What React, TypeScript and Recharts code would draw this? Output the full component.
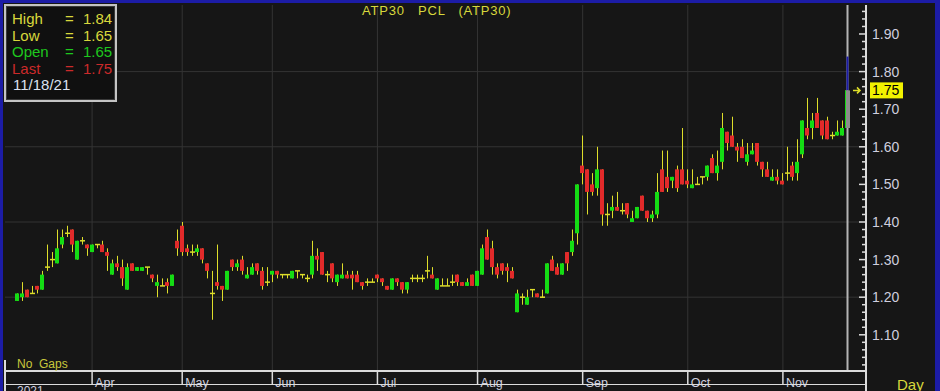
import React from 'react';
import {
  ComposedChart, Bar, XAxis, YAxis, CartesianGrid, ReferenceLine
} from 'recharts';

// --- daily candles, 11 Mar 2021 .. 18 Nov 2021 ---

const OPEN = [
  1.19, 1.20, 1.22, 1.21, 1.23, 1.22, 1.28, 1.30, 1.29, 1.34, 1.37, 1.38, 1.30, 1.35, 1.34,
  1.32, 1.34, 1.34, 1.32, 1.26, 1.29, 1.28, 1.22, 1.29, 1.27, 1.27, 1.28, 1.26, 1.23, 1.23,
  1.24, 1.23, 1.35, 1.39, 1.33, 1.32, 1.32, 1.33, 1.29, 1.21, 1.24, 1.23, 1.22, 1.30, 1.28,
  1.30, 1.25, 1.26, 1.29, 1.27, 1.24, 1.26, 1.27, 1.26, 1.26, 1.25, 1.27, 1.26, 1.25, 1.26,
  1.31, 1.32, 1.26, 1.29, 1.24, 1.25, 1.26, 1.26, 1.26, 1.24, 1.24, 1.24, 1.26, 1.25, 1.23,
  1.22, 1.25, 1.24, 1.22, 1.25, 1.25, 1.25, 1.27, 1.26, 1.22, 1.23, 1.23, 1.24, 1.26, 1.24,
  1.23, 1.26, 1.23, 1.26, 1.36, 1.33, 1.28, 1.29, 1.28, 1.27, 1.16, 1.20, 1.18, 1.22, 1.21,
  1.20, 1.21, 1.30, 1.28, 1.26, 1.32, 1.32, 1.37, 1.55, 1.54, 1.50, 1.49, 1.54, 1.42, 1.43,
  1.44, 1.43, 1.45, 1.40, 1.41, 1.47, 1.43, 1.41, 1.42, 1.54, 1.52, 1.51, 1.54, 1.54, 1.51,
  1.49, 1.50, 1.52, 1.52, 1.57, 1.53, 1.56, 1.64, 1.63, 1.60, 1.60, 1.56, 1.58, 1.61, 1.56,
  1.54, 1.51, 1.52, 1.51, 1.53, 1.55, 1.53, 1.58, 1.65, 1.65, 1.69, 1.67, 1.67, 1.63, 1.63,
  1.63, 1.65,
];

const HIGH = [
  1.21, 1.24, 1.22, 1.23, 1.23, 1.27, 1.34, 1.32, 1.38, 1.38, 1.39, 1.38, 1.35, 1.36, 1.34,
  1.34, 1.34, 1.35, 1.33, 1.30, 1.31, 1.30, 1.29, 1.29, 1.28, 1.28, 1.28, 1.26, 1.26, 1.25,
  1.25, 1.26, 1.38, 1.40, 1.34, 1.34, 1.34, 1.33, 1.29, 1.27, 1.34, 1.23, 1.27, 1.30, 1.30,
  1.31, 1.28, 1.29, 1.29, 1.28, 1.28, 1.27, 1.27, 1.26, 1.26, 1.27, 1.27, 1.26, 1.26, 1.35,
  1.33, 1.32, 1.27, 1.29, 1.26, 1.29, 1.27, 1.27, 1.27, 1.24, 1.25, 1.25, 1.26, 1.25, 1.23,
  1.25, 1.25, 1.24, 1.24, 1.26, 1.26, 1.26, 1.31, 1.28, 1.25, 1.25, 1.25, 1.26, 1.26, 1.24,
  1.25, 1.26, 1.27, 1.34, 1.38, 1.35, 1.29, 1.29, 1.29, 1.28, 1.22, 1.21, 1.22, 1.22, 1.21,
  1.22, 1.29, 1.31, 1.29, 1.29, 1.32, 1.38, 1.50, 1.63, 1.54, 1.53, 1.60, 1.54, 1.45, 1.47,
  1.48, 1.45, 1.45, 1.43, 1.44, 1.47, 1.43, 1.43, 1.53, 1.59, 1.59, 1.52, 1.55, 1.65, 1.54,
  1.54, 1.52, 1.52, 1.55, 1.58, 1.59, 1.69, 1.64, 1.68, 1.61, 1.62, 1.61, 1.61, 1.61, 1.56,
  1.56, 1.54, 1.54, 1.53, 1.60, 1.56, 1.62, 1.67, 1.73, 1.69, 1.73, 1.67, 1.68, 1.64, 1.67,
  1.67, 1.84,
];

const LOW = [
  1.19, 1.19, 1.20, 1.21, 1.21, 1.22, 1.27, 1.28, 1.29, 1.33, 1.36, 1.32, 1.30, 1.34, 1.31,
  1.32, 1.33, 1.32, 1.27, 1.26, 1.27, 1.23, 1.22, 1.27, 1.27, 1.27, 1.26, 1.24, 1.20, 1.23,
  1.21, 1.23, 1.31, 1.31, 1.31, 1.31, 1.31, 1.29, 1.25, 1.14, 1.22, 1.19, 1.22, 1.27, 1.27,
  1.26, 1.25, 1.26, 1.26, 1.22, 1.23, 1.24, 1.25, 1.25, 1.25, 1.25, 1.25, 1.25, 1.24, 1.25,
  1.27, 1.26, 1.24, 1.24, 1.23, 1.25, 1.25, 1.22, 1.24, 1.22, 1.23, 1.24, 1.24, 1.23, 1.22,
  1.22, 1.23, 1.21, 1.21, 1.24, 1.24, 1.24, 1.25, 1.25, 1.22, 1.23, 1.23, 1.23, 1.23, 1.23,
  1.23, 1.23, 1.23, 1.26, 1.30, 1.26, 1.25, 1.26, 1.24, 1.25, 1.16, 1.18, 1.18, 1.20, 1.20,
  1.20, 1.21, 1.27, 1.26, 1.26, 1.27, 1.31, 1.34, 1.50, 1.42, 1.47, 1.47, 1.39, 1.39, 1.41,
  1.43, 1.42, 1.41, 1.40, 1.41, 1.43, 1.40, 1.40, 1.41, 1.48, 1.48, 1.49, 1.48, 1.50, 1.49,
  1.49, 1.50, 1.50, 1.51, 1.53, 1.51, 1.54, 1.59, 1.60, 1.56, 1.57, 1.55, 1.58, 1.55, 1.52,
  1.52, 1.51, 1.50, 1.50, 1.51, 1.51, 1.51, 1.57, 1.62, 1.62, 1.65, 1.62, 1.62, 1.62, 1.63,
  1.63, 1.65,
];

const CLOSE = [
  1.21, 1.21, 1.20, 1.21, 1.22, 1.26, 1.28, 1.30, 1.33, 1.36, 1.37, 1.34, 1.35, 1.35, 1.33,
  1.34, 1.34, 1.32, 1.31, 1.29, 1.28, 1.25, 1.28, 1.27, 1.28, 1.28, 1.28, 1.25, 1.24, 1.23,
  1.23, 1.26, 1.33, 1.32, 1.32, 1.32, 1.33, 1.30, 1.27, 1.21, 1.23, 1.22, 1.27, 1.28, 1.29,
  1.27, 1.26, 1.28, 1.27, 1.23, 1.24, 1.27, 1.26, 1.26, 1.26, 1.27, 1.27, 1.26, 1.25, 1.31,
  1.30, 1.26, 1.26, 1.25, 1.26, 1.26, 1.25, 1.25, 1.24, 1.23, 1.24, 1.24, 1.25, 1.24, 1.22,
  1.25, 1.24, 1.22, 1.24, 1.25, 1.25, 1.25, 1.27, 1.25, 1.25, 1.23, 1.23, 1.24, 1.24, 1.23,
  1.24, 1.23, 1.27, 1.33, 1.30, 1.28, 1.26, 1.27, 1.27, 1.25, 1.21, 1.20, 1.20, 1.22, 1.20,
  1.20, 1.29, 1.27, 1.26, 1.29, 1.29, 1.35, 1.50, 1.53, 1.48, 1.48, 1.54, 1.42, 1.42, 1.44,
  1.43, 1.43, 1.42, 1.41, 1.44, 1.43, 1.41, 1.42, 1.48, 1.48, 1.49, 1.52, 1.49, 1.50, 1.50,
  1.50, 1.50, 1.52, 1.55, 1.53, 1.55, 1.65, 1.61, 1.60, 1.59, 1.57, 1.58, 1.59, 1.56, 1.54,
  1.52, 1.52, 1.51, 1.50, 1.53, 1.52, 1.56, 1.67, 1.63, 1.67, 1.65, 1.63, 1.62, 1.63, 1.64,
  1.65, 1.75,
];

// first trading day of each month (candle index) and its label
const MONTH_IDX = [15, 33, 51, 72, 92, 113, 134, 153];
const MONTH_LABELS = ['Apr', 'May', 'Jun', 'Jul', 'Aug', 'Sep', 'Oct', 'Nov'];

const PRICE_GRID = [1.2, 1.4, 1.6, 1.8];
const PRICE_LABELS = [1.1, 1.2, 1.3, 1.4, 1.5, 1.6, 1.7, 1.8, 1.9];

const LAST_DATE = '11/18/21';

const X_DOMAIN: [number, number] = [-2.4, 169.6];
const Y_DOMAIN: [number, number] = [1.0037, 1.9771];

const candles = OPEN.map((o, i) => ({
  idx: i, open: o, high: HIGH[i], low: LOW[i], close: CLOSE[i],
}));
const last = candles[candles.length - 1];

const minorTicks: number[] = [];
for (let t = 102; t <= 196; t += 2) minorTicks.push(t / 100);

const FONT = '"Liberation Sans", Arial, sans-serif';
const BG = '#161616';
const YELLOW = '#dede2a';
const GREEN = '#14dc14';
const RED = '#e22a2a';
const AXIS = '#dcdcdc';
const LABEL = '#cfcfdf';

const Candle = (props: any) => {
  const { x, y, width, height, payload } = props;
  const { open, high, low, close, idx } = payload;
  const top = Math.min(y, y + height);
  const k = Math.abs(height) / (high - low);
  const yOf = (v: number) => top + (high - v) * k;
  const cx = Math.floor(x + width / 2) + 0.5;

  if (idx === candles.length - 1) {
    // selected bar: cursor line, blue wick, grey body
    return (
      <g>
        <line x1={cx} x2={cx} y1={yOf(Y_DOMAIN[1])} y2={yOf(Y_DOMAIN[0])} stroke="#b4b4b4" strokeWidth={2} />
        <line x1={cx} x2={cx} y1={yOf(high)} y2={yOf(close)} stroke="#1a1aa8" strokeWidth={2} />
        <rect x={cx - 2.5} y={yOf(close)} width={5} height={yOf(open) - yOf(close)} fill="#8c8c8c" />
        <line x1={cx - 2} x2={cx - 2} y1={yOf(close)} y2={yOf(open)} stroke={GREEN} strokeWidth={1} />
      </g>
    );
  }

  const bodyTop = yOf(Math.max(open, close));
  const bodyBot = yOf(Math.min(open, close));
  return (
    <g>
      <line x1={cx} x2={cx} y1={yOf(high)} y2={yOf(low)} stroke={YELLOW} strokeWidth={1} />
      {open === close ? (
        <line x1={cx - 2.5} x2={cx + 2.5} y1={bodyTop} y2={bodyTop} stroke={YELLOW} strokeWidth={1.5} />
      ) : (
        <rect x={cx - 2.5} y={bodyTop} width={4} height={bodyBot - bodyTop}
          fill={close > open ? GREEN : RED} />
      )}
    </g>
  );
};

const PriceTick = (props: any) => {
  const { x, y, payload } = props;
  const v: number = payload.value;
  const major = PRICE_LABELS.some((p) => Math.abs(p - v) < 0.001);
  return (
    <g>
      <line x1={x - (major ? 7 : 4)} x2={x} y1={y} y2={y} stroke={AXIS} strokeWidth={1.5} />
      {major && (
        <text x={x + 6} y={y + 5} fill={LABEL} fontSize={14} fontFamily={FONT}>{v.toFixed(2)}</text>
      )}
    </g>
  );
};

const MonthTick = (props: any) => {
  const { x, y, payload } = props;
  const label = MONTH_LABELS[MONTH_IDX.indexOf(payload.value)];
  return (
    <g>
      <line x1={x} x2={x} y1={y} y2={y + 13} stroke={AXIS} strokeWidth={1.5} />
      <text x={x + 3} y={y + 16} fill={LABEL} fontSize={12.5} fontFamily={FONT}>{label}</text>
    </g>
  );
};

const LastBadge = (props: any) => {
  const { viewBox } = props;
  const right = viewBox.x + viewBox.width;
  const y = viewBox.y;
  return (
    <g>
      <path d={`M${right - 13} ${y}H${right - 6}M${right - 9} ${y - 3}L${right - 6} ${y}L${right - 9} ${y + 3}`}
        stroke={YELLOW} strokeWidth={1.5} fill="none" />
      <rect x={right + 4} y={y - 8} width={33} height={16} fill="#f2f200" />
      <text x={right + 6} y={y + 5} fill="#000" fontSize={14} fontFamily={FONT}>{last.close.toFixed(2)}</text>
    </g>
  );
};

const legendRows = [
  { name: 'High', value: last.high, color: '#d8d83c' },
  { name: 'Low', value: last.low, color: '#d8d83c' },
  { name: 'Open', value: last.open, color: '#1ec81e' },
  { name: 'Last', value: last.close, color: '#cc2a2a' },
];

export default function App() {
  return (
    <div style={{
      position: 'absolute', left: 0, top: 0, width: 940, height: 391, overflow: 'hidden',
      background: BG, fontFamily: FONT,
    }}>
      <ComposedChart width={940} height={391} data={candles}
        margin={{ top: 5, right: 4, bottom: 0, left: 5 }}>
        <CartesianGrid stroke="#343434" horizontalValues={PRICE_GRID} verticalValues={MONTH_IDX} />
        <XAxis type="number" dataKey="idx" domain={X_DOMAIN} allowDataOverflow ticks={MONTH_IDX}
          interval={0} tick={<MonthTick />} tickLine={false} tickSize={0} tickMargin={0} height={20}
          axisLine={{ stroke: AXIS, strokeWidth: 2 }} />
        <YAxis yAxisId={0} orientation="right" type="number" domain={Y_DOMAIN} allowDataOverflow
          ticks={minorTicks} interval={0} width={70} tick={<PriceTick />} tickLine={false}
          tickSize={0} tickMargin={0} axisLine={{ stroke: AXIS, strokeWidth: 2 }} />
        <YAxis yAxisId="left" orientation="left" mirror type="number" domain={Y_DOMAIN}
          allowDataOverflow ticks={minorTicks} interval={0} width={0} tick={false} tickSize={5}
          tickLine={{ stroke: AXIS }} axisLine={{ stroke: AXIS, strokeWidth: 2 }} />
        <Bar dataKey={(d: any) => [d.low, d.high]} barSize={5} shape={<Candle />}
          isAnimationActive={false} />
        <ReferenceLine y={last.close} stroke="none" label={<LastBadge />} />
      </ComposedChart>

      {/* lower time band and axis extensions */}
      <div style={{ position: 'absolute', left: 5, top: 383.5, width: 861, height: 1.5, background: AXIS }} />
      <div style={{ position: 'absolute', left: 865, top: 360, width: 2, height: 40, background: AXIS }} />
      <div style={{ position: 'absolute', left: 4, top: 360, width: 2, height: 40, background: AXIS }} />
      <div style={{ position: 'absolute', left: 17, top: 384, fontSize: 12, color: LABEL }}>2021</div>
      <div style={{ position: 'absolute', left: 897, top: 376, fontSize: 15, color: '#d8d83c' }}>Day</div>
      <div style={{ position: 'absolute', left: 17, top: 357, fontSize: 12, color: '#c8c83c' }}>No&nbsp; Gaps</div>

      {/* title */}
      <div style={{
        position: 'absolute', left: 362, top: 3, fontSize: 13, letterSpacing: 0.8, color: '#d8d83c',
        whiteSpace: 'pre',
      }}>{'ATP30   PCL   (ATP30)'}</div>

      {/* data window */}
      <div style={{
        position: 'absolute', left: 4, top: 4, width: 109, height: 94, background: '#101010',
        border: '2px solid #c4c4c4', boxShadow: 'inset 0 0 0 1px #3a3a3a',
      }}>
        {legendRows.map((r, i) => (
          <div key={r.name} style={{
            position: 'absolute', top: 4 + i * 16.5, left: 6, width: 100, fontSize: 15,
            lineHeight: '17px', color: r.color,
          }}>
            <span>{r.name}</span>
            <span style={{ position: 'absolute', left: 53 }}>=</span>
            <span style={{ position: 'absolute', left: 71 }}>{r.value.toFixed(2)}</span>
          </div>
        ))}
        <div style={{
          position: 'absolute', top: 4 + 4 * 16.5, left: 7, fontSize: 15, lineHeight: '17px',
          color: '#dce2f0',
        }}>{LAST_DATE}</div>
      </div>

      {/* blue frame */}
      <div style={{ position: 'absolute', left: 0, top: 0, width: 940, height: 3, background: '#1c1ca6' }} />
      <div style={{ position: 'absolute', left: 0, top: 0, width: 3, height: 391, background: '#1c1ca6' }} />
      <div style={{ position: 'absolute', left: 935, top: 0, width: 5, height: 391, background: '#1c1ca6' }} />
    </div>
  );
}
